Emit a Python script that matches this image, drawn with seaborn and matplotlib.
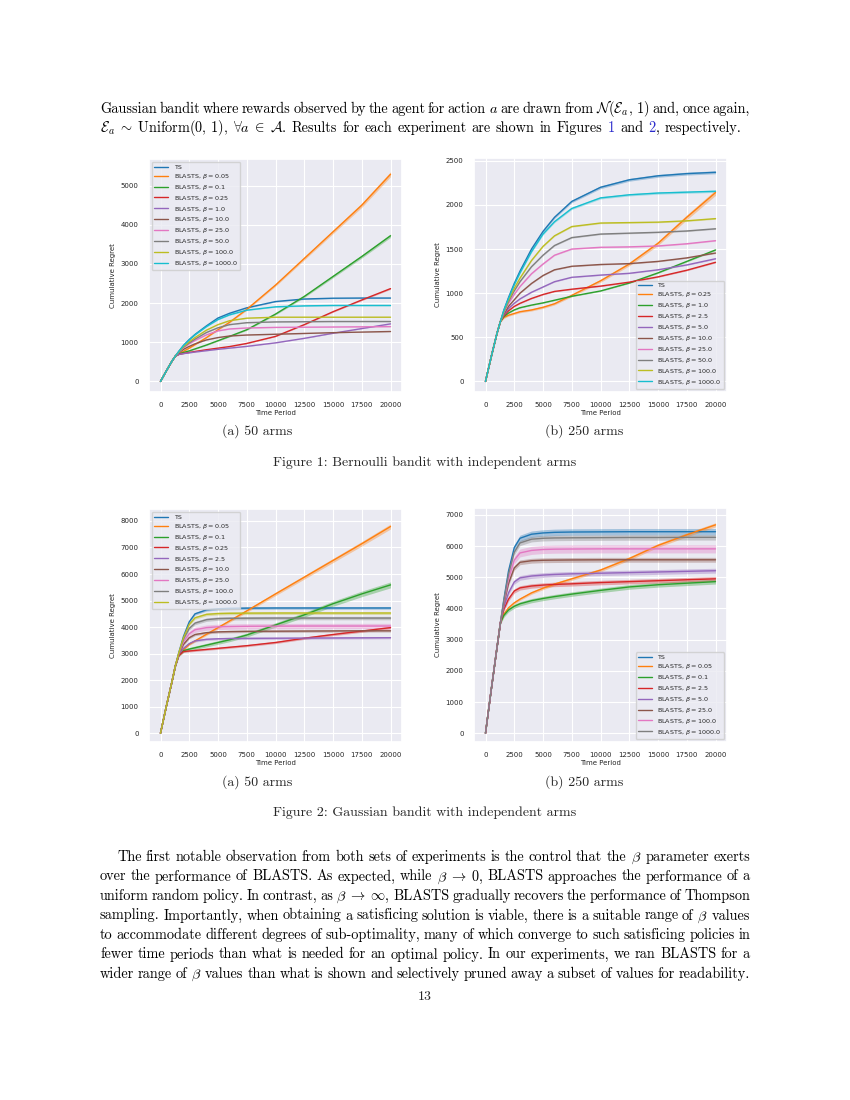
import numpy as np
import pandas as pd
import matplotlib
matplotlib.use('Agg')
import matplotlib.pyplot as plt
import seaborn as sns

# ── Axe temporel commun ────────────────────────────────────
T = [0, 500, 1000, 1300, 1600, 2000, 2500, 3000, 4000, 5000,
     6000, 7500, 10000, 12500, 15000, 17500, 20000]

# ── Figure 1a : Bernoulli, 50 bras ────────────────────────
B50_BETAS = ['0.05', '0.1', '0.25', '1.0', '10.0', '25.0', '50.0', '100.0', '1000.0']
B50_TS    = [0, 265, 520, 650, 770, 920, 1070, 1200, 1420, 1620, 1740, 1880, 2040, 2105, 2125, 2130, 2130]
B50_005   = [0, 265, 520, 650, 705, 770, 850, 940, 1120, 1320, 1510, 1840, 2460, 3140, 3820, 4500, 5290]
B50_01    = [0, 265, 520, 650, 700, 740, 780, 830, 930, 1040, 1150, 1320, 1720, 2170, 2680, 3190, 3720]
B50_025   = [0, 265, 520, 650, 690, 715, 740, 765, 810, 850, 890, 970, 1150, 1450, 1780, 2080, 2370]
B50_1     = [0, 265, 520, 650, 690, 710, 730, 750, 785, 820, 850, 895, 985, 1100, 1230, 1350, 1470]
B50_10    = [0, 265, 520, 650, 730, 820, 895, 960, 1060, 1120, 1160, 1185, 1205, 1225, 1245, 1260, 1275]
B50_25    = [0, 265, 520, 650, 750, 860, 960, 1045, 1190, 1290, 1340, 1365, 1380, 1385, 1390, 1395, 1400]
B50_50    = [0, 265, 520, 650, 755, 875, 985, 1080, 1250, 1370, 1450, 1500, 1520, 1525, 1530, 1530, 1530]
B50_100   = [0, 265, 520, 650, 760, 890, 1010, 1120, 1310, 1450, 1550, 1615, 1640, 1640, 1640, 1640, 1640]
B50_1000  = [0, 265, 520, 650, 770, 915, 1060, 1190, 1400, 1580, 1700, 1820, 1905, 1930, 1940, 1940, 1940]
B50_SERIES = [B50_TS, B50_005, B50_01, B50_025, B50_1, B50_10, B50_25, B50_50, B50_100, B50_1000]
B50_BANDE  = [.006, .012, .012, .008, .005, .004, .005, .004, .004, .006]

# ── Figure 1b : Bernoulli, 250 bras ───────────────────────
B250_BETAS = ['0.25', '1.0', '2.5', '5.0', '10.0', '25.0', '50.0', '100.0', '1000.0']
B250_TS    = [0, 280, 545, 680, 810, 950, 1110, 1250, 1500, 1700, 1860, 2040, 2200, 2285, 2330, 2355, 2370]
B250_025   = [0, 280, 545, 680, 725, 750, 770, 790, 810, 840, 880, 975, 1140, 1330, 1565, 1860, 2140]
B250_1     = [0, 280, 545, 680, 735, 775, 810, 835, 865, 890, 920, 965, 1025, 1115, 1230, 1360, 1490]
B250_25    = [0, 280, 545, 680, 745, 800, 850, 885, 940, 985, 1020, 1045, 1080, 1125, 1185, 1260, 1350]
B250_5     = [0, 280, 545, 680, 755, 825, 885, 935, 1010, 1070, 1130, 1180, 1205, 1225, 1265, 1320, 1390]
B250_10    = [0, 280, 545, 680, 765, 850, 925, 1000, 1110, 1200, 1265, 1305, 1325, 1335, 1360, 1400, 1455]
B250_250   = [0, 280, 545, 680, 780, 885, 985, 1075, 1220, 1330, 1430, 1500, 1520, 1525, 1535, 1560, 1595]
B250_50    = [0, 280, 545, 680, 790, 905, 1025, 1130, 1300, 1430, 1540, 1630, 1670, 1680, 1690, 1705, 1730]
B250_100   = [0, 280, 545, 680, 795, 920, 1055, 1170, 1370, 1530, 1650, 1755, 1795, 1800, 1805, 1820, 1845]
B250_1000  = [0, 280, 545, 680, 805, 940, 1095, 1230, 1470, 1670, 1810, 1960, 2080, 2115, 2135, 2145, 2155]
B250_SERIES = [B250_TS, B250_025, B250_1, B250_25, B250_5, B250_10, B250_250, B250_50, B250_100, B250_1000]
B250_BANDE  = [.007, .015, .005, .005, .004, .004, .004, .004, .004, .006]

# ── Figure 2a : Gaussien, 50 bras ─────────────────────────
G50_BETAS = ['0.05', '0.1', '0.25', '2.5', '10.0', '25.0', '100.0', '1000.0']
G50_TS    = [0, 1000, 1950, 2550, 3050, 3650, 4200, 4500, 4650, 4690, 4705, 4715, 4720, 4720, 4720, 4720, 4720]
G50_005   = [0, 1000, 1950, 2550, 2960, 3150, 3350, 3480, 3730, 3980, 4230, 4610, 5250, 5880, 6510, 7140, 7790]
G50_01    = [0, 1000, 1950, 2550, 2950, 3110, 3170, 3220, 3320, 3420, 3520, 3700, 4080, 4460, 4880, 5250, 5590]
G50_025   = [0, 1000, 1950, 2550, 2940, 3080, 3100, 3120, 3160, 3200, 3240, 3300, 3420, 3580, 3720, 3850, 3980]
G50_25    = [0, 1000, 1950, 2550, 2980, 3200, 3380, 3480, 3540, 3560, 3570, 3575, 3580, 3585, 3590, 3595, 3600]
G50_10    = [0, 1000, 1950, 2550, 2990, 3350, 3600, 3720, 3790, 3820, 3830, 3840, 3845, 3850, 3855, 3860, 3860]
G50_250   = [0, 1000, 1950, 2550, 3000, 3450, 3750, 3900, 3980, 4010, 4020, 4030, 4035, 4040, 4040, 4040, 4040]
G50_100   = [0, 1000, 1950, 2550, 3020, 3550, 3950, 4150, 4280, 4320, 4330, 4335, 4340, 4340, 4340, 4340, 4340]
G50_1000  = [0, 1000, 1950, 2550, 3040, 3600, 4100, 4350, 4480, 4510, 4520, 4525, 4530, 4530, 4530, 4530, 4530]
G50_SERIES = [G50_TS, G50_005, G50_01, G50_025, G50_25, G50_10, G50_250, G50_100, G50_1000]
G50_BANDE  = [.01, .012, .02, .012, .012, .012, .025, .015, .012]

# ── Figure 2b : Gaussien, 250 bras ────────────────────────
G250_BETAS = ['0.05', '0.1', '2.5', '5.0', '25.0', '100.0', '1000.0']
G250_TS    = [0, 1400, 2750, 3550, 4300, 5200, 5950, 6250, 6380, 6420, 6440, 6450, 6455, 6460, 6460, 6460, 6460]
G250_005   = [0, 1400, 2750, 3550, 3820, 4020, 4180, 4300, 4500, 4650, 4780, 4950, 5230, 5600, 6020, 6360, 6680]
G250_01    = [0, 1400, 2750, 3550, 3780, 3950, 4070, 4150, 4250, 4320, 4380, 4460, 4580, 4690, 4760, 4810, 4860]
G250_25    = [0, 1400, 2750, 3550, 3980, 4300, 4560, 4660, 4720, 4750, 4770, 4790, 4830, 4860, 4890, 4920, 4950]
G250_5     = [0, 1400, 2750, 3550, 4050, 4500, 4850, 4980, 5040, 5070, 5090, 5110, 5130, 5150, 5170, 5190, 5210]
G250_250   = [0, 1400, 2750, 3550, 4150, 4800, 5300, 5480, 5530, 5545, 5550, 5555, 5560, 5560, 5560, 5560, 5560]
G250_100   = [0, 1400, 2750, 3550, 4200, 4950, 5550, 5780, 5860, 5890, 5900, 5905, 5910, 5910, 5910, 5910, 5910]
G250_1000  = [0, 1400, 2750, 3550, 4250, 5100, 5800, 6100, 6220, 6250, 6260, 6265, 6270, 6275, 6275, 6280, 6280]
G250_SERIES = [G250_TS, G250_005, G250_01, G250_25, G250_5, G250_250, G250_100, G250_1000]
G250_BANDE  = [.016, .01, .016, .015, .015, .014, .022, .014]

# ── Texte de la page ──────────────────────────────────────
INTRO = [
    r"Gaussian bandit where rewards observed by the agent for action $a$ are drawn from $\mathcal{N}(\mathcal{E}_a,\, 1)$ and, once again,",
    r"$\mathcal{E}_a\;\sim\;\mathrm{Uniform}(0,\,1),\;\forall a\;\in\;\mathcal{A}$. Results for each experiment are shown in Figures #1 and #2|, respectively.",
]
PARAGRAPHE = [
    r"The first notable observation from both sets of experiments is the control that the $\beta$ parameter exerts",
    r"over the performance of BLASTS. As expected, while $\beta\;\rightarrow\;0$, BLASTS approaches the performance of a",
    r"uniform random policy. In contrast, as $\beta\;\rightarrow\;\infty$, BLASTS gradually recovers the performance of Thompson",
    r"sampling. Importantly, when obtaining a satisficing solution is viable, there is a suitable range of $\beta$ values",
    r"to accommodate different degrees of sub-optimality, many of which converge to such satisficing policies in",
    r"fewer time periods than what is needed for an optimal policy. In our experiments, we ran BLASTS for a",
    r"wider range of $\beta$ values than what is shown and selectively pruned away a subset of values for readability.",
]

W, H = 850, 1100
SERIF = ['cmr10', 'DejaVu Serif']
BLEU = '#2a2acc'
FS_CORPS = 10.3
FS_LEG = 10.0

sns.set_theme(style='darkgrid')
plt.rcParams['axes.formatter.use_mathtext'] = False

fig = plt.figure(figsize=(8.5, 11), dpi=100, facecolor='white')


def boite(x0, y0, x1, y1):
    # pixels (origine en haut à gauche) -> fractions de figure
    return [x0 / W, 1 - y1 / H, (x1 - x0) / W, (y1 - y0) / H]


def tracer(ax, series, betas, bandes, ylim, ystep, loc):
    labels = ['TS'] + [rf'BLASTS, $\beta = {b}$' for b in betas]
    pal = sns.color_palette('tab10', len(labels))
    df = pd.concat([pd.DataFrame({'t': T, 'regret': s, 'algo': l})
                    for s, l in zip(series, labels)], ignore_index=True)
    for s, f, c in zip(series, bandes, pal):
        y = np.array(s, dtype=float)
        ax.fill_between(T, y * (1 - f), y * (1 + f), color=c, alpha=0.35, lw=0)
    sns.lineplot(data=df, x='t', y='regret', hue='algo', hue_order=labels,
                 palette=pal, errorbar=None, lw=1.0, ax=ax)
    ax.set_xlim(-1000, 21000)
    ax.set_ylim(*ylim)
    ax.set_xticks(range(0, 20001, 2500))
    ax.set_yticks(range(0, int(ylim[1]) + 1, ystep))
    ax.tick_params(labelsize=5, pad=1.5)
    ax.grid(color='white', lw=0.8)
    ax.set_xlabel('Time Period', fontsize=5, labelpad=1)
    ax.set_ylabel('Cumulative Regret', fontsize=5, labelpad=3)
    sns.move_legend(ax, loc, fontsize=4.6, title=None, frameon=True,
                    labelspacing=0.3, borderpad=0.35, handlelength=2.2)


ax1 = fig.add_axes(boite(149, 159, 402, 392))
tracer(ax1, B50_SERIES, B50_BETAS, B50_BANDE, (-270, 5680), 1000, 'upper left')
ax2 = fig.add_axes(boite(474, 158, 727, 392))
tracer(ax2, B250_SERIES, B250_BETAS, B250_BANDE, (-120, 2532), 500, 'lower right')
ax3 = fig.add_axes(boite(149, 509, 402, 742))
tracer(ax3, G50_SERIES, G50_BETAS, G50_BANDE, (-330, 8450), 1000, 'upper left')
ax4 = fig.add_axes(boite(474, 508, 727, 742))
tracer(ax4, G250_SERIES, G250_BETAS, G250_BANDE, (-280, 7220), 1000, 'lower right')

# ── Texte justifié façon LaTeX ────────────────────────────
rend = fig.canvas.get_renderer()


def mots(ligne):
    res, cur = [], ''
    for tok in ligne.split(' '):
        cur = tok if not cur else cur + ' ' + tok
        if cur.count('$') % 2 == 0:
            res.append(cur)
            cur = ''
    return res


def ligne(texte, y, x0=100, x1=750, justifier=True, fs=FS_CORPS):
    groupes = []
    for m in mots(texte):
        objs = []
        for p in m.split('|'):
            col = BLEU if p.startswith('#') else 'black'
            objs.append(fig.text(0, 1 - y / H, p.lstrip('#'), fontsize=fs,
                                 color=col, family=SERIF, va='baseline',
                                 math_fontfamily='cm'))
        groupes.append(objs)
    larg = [[o.get_window_extent(rend).width for o in g] for g in groupes]
    total = sum(sum(l) for l in larg)
    esp = (x1 - x0 - total) / (len(groupes) - 1) if justifier else fs * 0.5
    x = x0
    for g, l in zip(groupes, larg):
        for o, w in zip(g, l):
            o.set_x(x / W)
            x += w
        x += esp


def centre(texte, x, y, fs=FS_LEG):
    fig.text(x / W, 1 - y / H, texte, fontsize=fs, family=SERIF,
             ha='center', va='baseline', math_fontfamily='cm')


ligne(INTRO[0], 113)
ligne(INTRO[1], 132, justifier=False)

centre('(a) 50 arms', 257, 435)
centre('(b) 250 arms', 584, 435)
centre('Figure 1: Bernoulli bandit with independent arms', 425, 466)
centre('(a) 50 arms', 257, 786)
centre('(b) 250 arms', 584, 786)
centre('Figure 2: Gaussian bandit with independent arms', 425, 816)

for i, txt in enumerate(PARAGRAPHE):
    ligne(txt, 861 + i * 19.5, x0=117 if i == 0 else 100)

centre('13', 425, 1000)

fig.savefig('out.png', dpi=100, facecolor='white')
